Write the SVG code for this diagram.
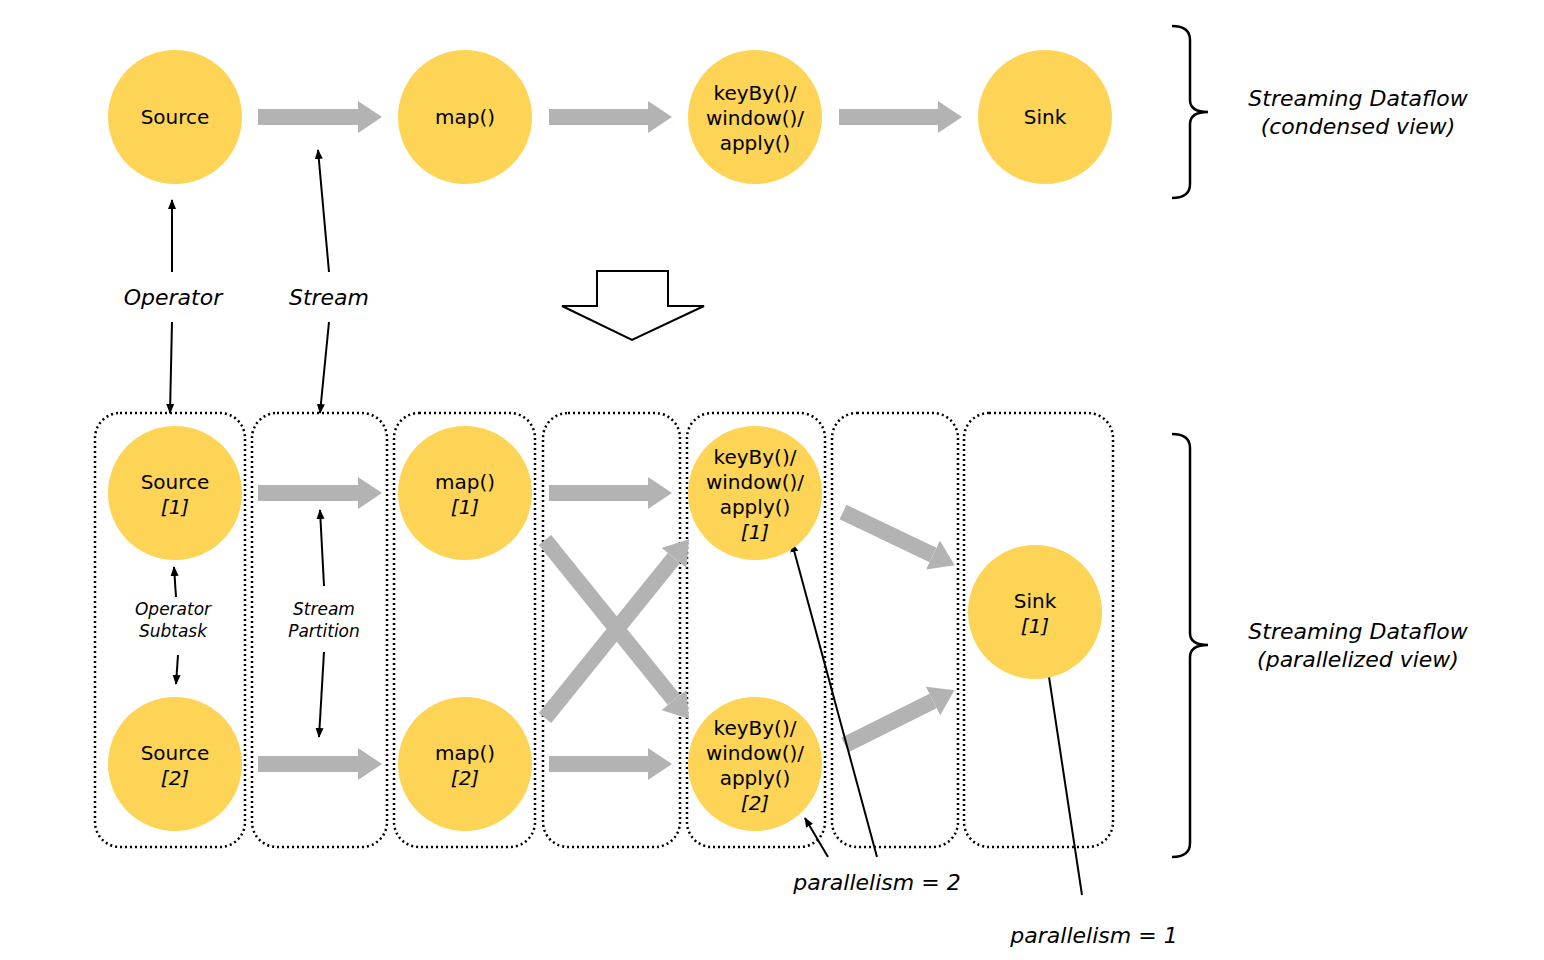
<svg xmlns="http://www.w3.org/2000/svg" width="1544" height="960" viewBox="0 0 1544 960">
<style>
text{font-family:"DejaVu Sans",Verdana,sans-serif;fill:#000;text-anchor:middle}
.n{font-size:20px}
.i{font-style:italic}
.lab{font-size:22px;font-style:italic}
.sm{font-size:17px;font-style:italic}
circle{fill:#fed456}
.g{stroke:#b3b3b3;stroke-width:16;fill:none;marker-end:url(#gh)}
.t{stroke:#000;stroke-width:2;fill:none;marker-end:url(#th)}
.box{fill:none;stroke:#000;stroke-width:2.5;stroke-dasharray:2 3}
.br{fill:none;stroke:#000;stroke-width:2.5}
</style>
<defs>
<marker id="gh" viewBox="0 0 1.5 2" refX="0" refY="1" markerWidth="1.5" markerHeight="2" orient="auto" markerUnits="strokeWidth"><path d="M0,0 L1.5,1 L0,2 Z" fill="#b3b3b3"/></marker>
<marker id="th" viewBox="0 0 10 10" refX="9" refY="5" markerWidth="5" markerHeight="5" orient="auto" markerUnits="strokeWidth"><path d="M0,1 L10,5 L0,9 Z" fill="#000"/></marker>
</defs>
<g id="boxes">
<rect class="box" x="95" y="413" width="150" height="434" rx="25"/>
<rect class="box" x="252" y="413" width="135" height="434" rx="25"/>
<rect class="box" x="394" y="413" width="141" height="434" rx="25"/>
<rect class="box" x="543" y="413" width="137" height="434" rx="25"/>
<rect class="box" x="687" y="413" width="138" height="434" rx="25"/>
<rect class="box" x="832" y="413" width="126" height="434" rx="25"/>
<rect class="box" x="964" y="413" width="149" height="434" rx="25"/>
</g>
<g id="connectors">
<line class="g" x1="258" y1="117" x2="358" y2="117"/>
<line class="g" x1="549" y1="117" x2="648" y2="117"/>
<line class="g" x1="839" y1="117" x2="938" y2="117"/>
<line class="g" x1="258" y1="493" x2="358" y2="493"/>
<line class="g" x1="549" y1="493" x2="648" y2="493"/>
<line class="g" x1="258" y1="764" x2="358" y2="764"/>
<line class="g" x1="549" y1="764" x2="648" y2="764"/>
<line class="g" x1="545" y1="540" x2="674" y2="700"/>
<line class="g" x1="545" y1="718" x2="674" y2="558"/>
<line class="g" x1="843" y1="512" x2="933" y2="555"/>
<line class="g" x1="845" y1="745" x2="933" y2="701"/>
<line class="t" x1="172" y1="272" x2="172" y2="200"/>
<line class="t" x1="172" y1="322" x2="170" y2="413"/>
<line class="t" x1="329" y1="272" x2="318" y2="150"/>
<line class="t" x1="329" y1="322" x2="320" y2="413"/>
<line class="t" x1="176" y1="597" x2="174" y2="567"/>
<line class="t" x1="178" y1="655" x2="176" y2="684"/>
<line class="t" x1="324" y1="586" x2="320" y2="510"/>
<line class="t" x1="324" y1="652" x2="319" y2="737"/>
<line class="t" x1="877" y1="857" x2="792" y2="543"/>
<line class="t" x1="828" y1="857" x2="805" y2="818"/>
<line class="t" x1="1082" y1="895" x2="1046" y2="657"/>
<polygon points="597,271 668,271 668,306 704,306 632,340 562,306 597,306" fill="#fff" stroke="#000" stroke-width="2"/>
</g>
<g id="source"><circle cx="175" cy="117" r="67"/><text class="n" x="175" y="124">Source</text></g>
<g id="map"><circle cx="465" cy="117" r="67"/><text class="n" x="465" y="124">map()</text></g>
<g id="keyby"><circle cx="755" cy="117" r="67"/><text class="n" x="755" y="100">keyBy()/</text><text class="n" x="755" y="125">window()/</text><text class="n" x="755" y="150">apply()</text></g>
<g id="sink"><circle cx="1045" cy="117" r="67"/><text class="n" x="1045" y="124">Sink</text></g>
<g id="source1"><circle cx="175" cy="493" r="67"/><text class="n" x="175" y="489">Source</text><text class="n i" x="175" y="514">[1]</text></g>
<g id="source2"><circle cx="175" cy="764" r="67"/><text class="n" x="175" y="760">Source</text><text class="n i" x="175" y="785">[2]</text></g>
<g id="map1"><circle cx="465" cy="493" r="67"/><text class="n" x="465" y="489">map()</text><text class="n i" x="465" y="514">[1]</text></g>
<g id="map2"><circle cx="465" cy="764" r="67"/><text class="n" x="465" y="760">map()</text><text class="n i" x="465" y="785">[2]</text></g>
<g id="keyby1"><circle cx="755" cy="493" r="67"/><text class="n" x="755" y="464">keyBy()/</text><text class="n" x="755" y="489">window()/</text><text class="n" x="755" y="514">apply()</text><text class="n i" x="755" y="539">[1]</text></g>
<g id="keyby2"><circle cx="755" cy="764" r="67"/><text class="n" x="755" y="735">keyBy()/</text><text class="n" x="755" y="760">window()/</text><text class="n" x="755" y="785">apply()</text><text class="n i" x="755" y="810">[2]</text></g>
<g id="sink1"><circle cx="1035" cy="612" r="67"/><text class="n" x="1035" y="608">Sink</text><text class="n i" x="1035" y="633">[1]</text></g>
<g id="labels">
<text class="lab" x="173" y="305">Operator</text>
<text class="lab" x="329" y="305">Stream</text>
<text class="sm" x="173" y="615">Operator</text>
<text class="sm" x="173" y="637">Subtask</text>
<text class="sm" x="324" y="615">Stream</text>
<text class="sm" x="324" y="637">Partition</text>
<text class="lab" x="877" y="890">parallelism = 2</text>
<text class="lab" x="1094" y="943">parallelism = 1</text>
<text class="lab" x="1358" y="106">Streaming Dataflow</text>
<text class="lab" x="1358" y="134">(condensed view)</text>
<text class="lab" x="1358" y="639">Streaming Dataflow</text>
<text class="lab" x="1358" y="667">(parallelized view)</text>
</g>
<g id="braces">
<path class="br" d="M1172,26 Q1190,26 1190,40 L1190,100 Q1190,112 1208,112 Q1190,112 1190,124 L1190,184 Q1190,198 1172,198"/>
<path class="br" d="M1172,434 Q1190,434 1190,448 L1190,633 Q1190,645 1208,645 Q1190,645 1190,657 L1190,843 Q1190,857 1172,857"/>
</g>
</svg>
